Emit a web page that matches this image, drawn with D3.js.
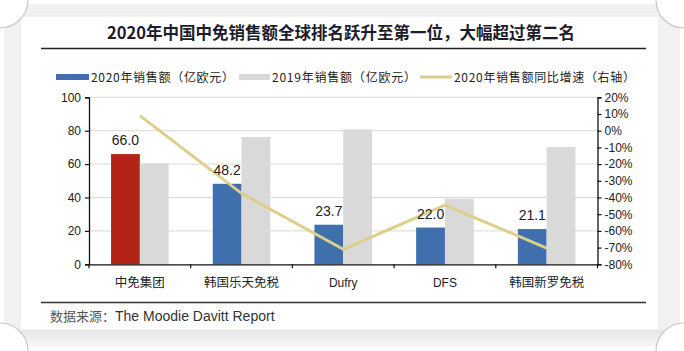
<!DOCTYPE html>
<html><head><meta charset="utf-8">
<script src="https://cdn.jsdelivr.net/npm/d3@7"></script>
<style>body{margin:0;background:#fff}svg{display:block}</style>
</head><body>
<script>
const categories = ["中免集团","韩国乐天免税","Dufry","DFS","韩国新罗免税"];
const sales2020 = [66.0, 48.2, 23.7, 22.0, 21.1];
const sales2019 = [60.4, 76.2, 80.8, 39.3, 70.2];
const growth = [9.0, -37.5, -71.0, -44.5, -70.3];
const leftTicks = [0,20,40,60,80,100];
const rightTicks = [20,10,0,-10,-20,-30,-40,-50,-60,-70,-80];
const seriesNames = ["2020年销售额（亿欧元）","2019年销售额（亿欧元）","2020年销售额同比增速（右轴）"];
const titleText = "2020年中国中免销售额全球排名跃升至第一位，大幅超过第二名";
const sourceText = "数据来源：";
const sourceName = "The Moodie Davitt Report";

const W=684,H=351;
const svg=d3.select("body").append("svg").attr("width",W).attr("height",H);
const cjk="'Noto Sans CJK SC','Noto Sans',sans-serif";
const lat="'Liberation Sans',Arial,sans-serif";

// frame
const defs=svg.append("defs");
const g1=defs.append("linearGradient").attr("id","fb").attr("x1",0).attr("y1",0).attr("x2",0).attr("y2",1);
g1.append("stop").attr("offset","0").attr("stop-color","#e6e6e6");
g1.append("stop").attr("offset","1").attr("stop-color","#f7f7f7");
svg.append("rect").attr("x",4).attr("y",4).attr("width",676).attr("height",343).attr("fill","#f1f1f1");
svg.append("rect").attr("x",4).attr("y",330).attr("width",676).attr("height",17).attr("fill","url(#fb)");
svg.append("rect").attr("x",20).attr("y",16).attr("width",639).attr("height",314).attr("fill","#fff").attr("stroke","#e8e8e8");
const R=28;
[[0,0],[W,0],[W,H],[0,H]].forEach(([cx,cy])=>{
  svg.append("circle").attr("cx",cx).attr("cy",cy).attr("r",R).attr("fill","#fff").attr("stroke","#c8c8c8").attr("stroke-width",1.2);
});

// title
svg.append("text").attr("x",341).attr("y",39).attr("text-anchor","middle")
  .attr("font-family",cjk).attr("font-weight","bold").attr("font-size",16.5).attr("fill","#1c1c2c").text(titleText);
svg.append("line").attr("x1",41).attr("x2",646).attr("y1",48.5).attr("y2",48.5).attr("stroke","#222").attr("stroke-width",1.5);
svg.append("line").attr("x1",41).attr("x2",646).attr("y1",302.5).attr("y2",302.5).attr("stroke","#333").attr("stroke-width",1.5);

// source
const st=svg.append("text").attr("x",50).attr("y",321).attr("font-size",14).attr("fill","#333");
st.append("tspan").attr("font-family",cjk).attr("font-size",13).attr("fill","#555").text(sourceText);
st.append("tspan").attr("font-family",lat).text(sourceName);

// scales
const x0=89,x1=597.5,yT=97.3,yB=264.3;
const x=d3.scaleBand().domain(categories).range([x0,x1]);
const y=d3.scaleLinear().domain([0,100]).range([yB,yT]);
const y2=d3.scaleLinear().domain([-80,20]).range([yB,yT]);
const bw=28.8;

// grid
svg.append("g").selectAll("line").data(leftTicks.filter(d=>d>0)).join("line")
  .attr("x1",x0).attr("x2",x1).attr("y1",d=>y(d)).attr("y2",d=>y(d)).attr("stroke","#d9d9d9").attr("stroke-width",1);

// bars
const cx=c=>x(c)+x.bandwidth()/2;
svg.append("g").selectAll("rect").data(categories).join("rect")
  .attr("x",d=>cx(d)-bw).attr("width",bw).attr("y",(d,i)=>y(sales2020[i])).attr("height",(d,i)=>yB-y(sales2020[i]))
  .attr("fill",(d,i)=>i===0?"#b32417":"#3f6fac");
svg.append("g").selectAll("rect").data(categories).join("rect")
  .attr("x",d=>cx(d)).attr("width",bw).attr("y",(d,i)=>y(sales2019[i])).attr("height",(d,i)=>yB-y(sales2019[i]))
  .attr("fill","#d9d9d9");

// line
const line=d3.line().x((d,i)=>cx(categories[i])).y(d=>y2(d));
svg.append("path").datum(growth).attr("d",line).attr("fill","none").attr("stroke","#dccf8c").attr("stroke-width",3).attr("stroke-linejoin","round");

// labels
svg.append("g").selectAll("text").data(categories).join("text")
  .attr("x",d=>cx(d)-bw/2).attr("y",(d,i)=>y(sales2020[i])-9).attr("text-anchor","middle")
  .attr("font-family",lat).attr("font-size",14).attr("fill","#222").text((d,i)=>sales2020[i].toFixed(1));

// axes
const yl=d3.axisLeft(y).tickValues(leftTicks).tickSize(4).tickPadding(4);
const gL=svg.append("g").attr("transform",`translate(${x0},0)`).call(yl);
const yr=d3.axisRight(y2).tickValues(rightTicks).tickSize(4).tickPadding(3).tickFormat(d=>d+"%");
const gR=svg.append("g").attr("transform",`translate(${x1},0)`).call(yr);
const xb=d3.axisBottom(x).tickSize(0).tickPadding(14);
const gB=svg.append("g").attr("transform",`translate(0,${yB})`).call(xb);
[gL,gR,gB].forEach(g=>{
  g.select(".domain").attr("stroke","#111").attr("stroke-width",1.3);
  g.selectAll(".tick line").attr("stroke","#111").attr("stroke-width",1.2);
  g.selectAll("text").attr("font-family",lat).attr("font-size",12).attr("fill","#222");
});
gB.selectAll("text").attr("font-family",d=>/[\u4e00-\u9fff]/.test(d)?cjk:lat).attr("font-size",d=>/[\u4e00-\u9fff]/.test(d)?12.5:12);
svg.append("g").selectAll("line").data(categories.concat(["end"])).join("line")
  .attr("x1",(d,i)=>i<categories.length?x(d):x1).attr("x2",(d,i)=>i<categories.length?x(d):x1)
  .attr("y1",yB).attr("y2",yB+4).attr("stroke","#111").attr("stroke-width",1.2);

// legend
const lg=svg.append("g").attr("font-family",cjk).attr("font-size",12).attr("fill","#222");
const items=[{x:56,w:33,t:"rect",c:"#3f6fac",tx:91,tw:143},{x:239,w:31,t:"rect",c:"#d9d9d9",tx:272,tw:144},{x:420,w:32,t:"line",c:"#dccf8c",tx:454,tw:181}];
items.forEach((it,i)=>{
  if(it.t==="rect") lg.append("rect").attr("x",it.x).attr("y",74).attr("width",it.w).attr("height",6).attr("fill",it.c);
  else lg.append("line").attr("x1",it.x).attr("x2",it.x+it.w).attr("y1",77).attr("y2",77).attr("stroke",it.c).attr("stroke-width",3);
  lg.append("text").attr("x",it.tx).attr("y",81.5).attr("textLength",it.tw).attr("lengthAdjust","spacing").text(seriesNames[i]);
});
</script>
</body></html>
